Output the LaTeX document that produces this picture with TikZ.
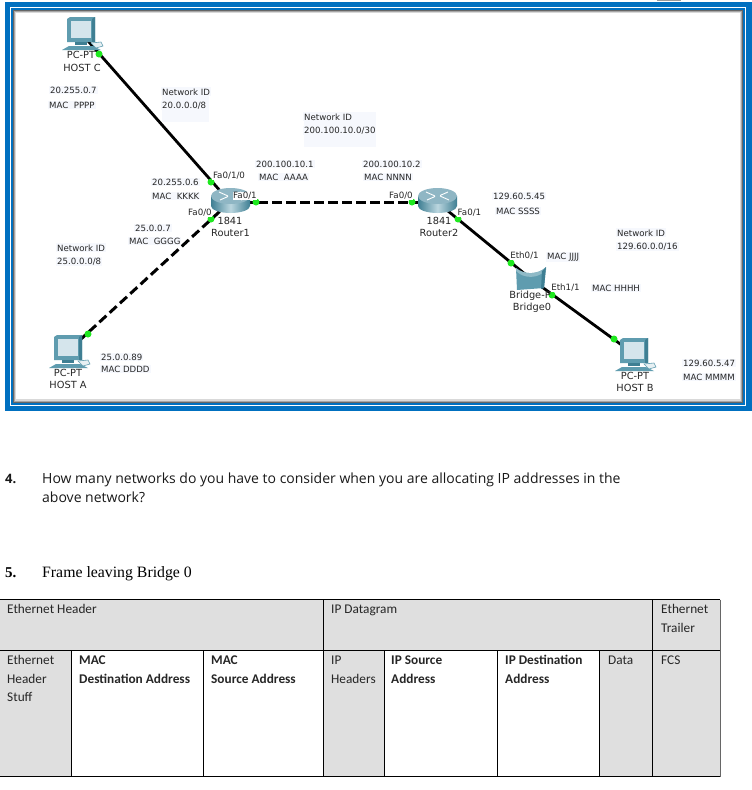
\documentclass[tikz,border=0pt]{standalone}
\usepackage{fontspec}
\setmainfont{DejaVu Sans}
\newfontfamily\labelfont{DejaVu Sans}
\newfontfamily\ptfont{DejaVu Sans}
\newfontfamily\bodyfont{Open Sans}
\newfontfamily\serifont{Liberation Serif}
\newfontfamily\tablefont{Carlito}
\definecolor{frameblue}{HTML}{0070C0}
\definecolor{monitor}{HTML}{5F9CAF}
\definecolor{monitordark}{HTML}{3F7F93}
\definecolor{screenfill}{HTML}{D5E5EC}
\definecolor{routermid}{HTML}{BBD6DF}
\definecolor{routertop}{HTML}{8FB6C4}
\definecolor{cellgray}{HTML}{DFDFDF}
\definecolor{dotgreen}{HTML}{1FE81F}
\definecolor{labelbg}{HTML}{F6F8FD}
\tikzset{
  x=1pt,y=-1pt,
  lnk/.style={line width=2.8pt,black},
  dlnk/.style={line width=3pt,black,dash pattern=on 9.5pt off 4.5pt},
  dot/.style={circle,fill=dotgreen,draw=none,inner sep=0pt,minimum size=7pt},
  dev/.style={draw=none,inner sep=0pt,minimum width=30pt,minimum height=30pt},
  ptl/.style={font=\ptfont\fontsize{9.8}{11}\selectfont,text=black!85,inner sep=0pt,anchor=center},
  port/.style={font=\ptfont\fontsize{8.7}{10}\selectfont,text=black!85,inner sep=0.5pt,fill=white,anchor=center},
  lab/.style={font=\labelfont\fontsize{8.6}{10}\selectfont,text=black!85,inner sep=1pt,fill=labelbg,anchor=base west,xshift=-1pt},
  body/.style={font=\bodyfont\fontsize{14}{19}\selectfont,inner sep=0pt,anchor=base west,text=black!90},
  cell/.style={font=\tablefont\fontsize{13.3}{14}\selectfont,inner sep=0pt,anchor=base west,text=black!85},
  bcell/.style={cell,font=\tablefont\bfseries\fontsize{13.3}{14}\selectfont},
  tline/.style={black,line width=0.9pt},
}
\newcommand{\pcicon}[2]{%
  \begin{scope}[shift={(#1,#2)}]
    \fill[monitor] (0,2) -- (3,0) -- (28,0) -- (28,25) -- (0,25) -- cycle;
    \fill[monitordark] (25,2) -- (28,0) -- (28,25) -- (25,25) -- cycle;
    \fill[screenfill] (4,4) rectangle (24,21);
    \fill[monitordark] (8,25) rectangle (20,28);
    \fill[monitor] (2,29) -- (26,29) -- (30,31) -- (34,33) -- (-5,33) -- cycle;
    \fill[white!85!monitor] (24,26) -- (34,25) -- (36,29) -- (29,31) -- cycle;
    \draw[monitor,line width=0.6pt] (24,26) -- (34,25) -- (36,29) -- (29,31) -- cycle;
  \end{scope}}
\newcommand{\routericon}[2]{%
  \begin{scope}[shift={(#1,#2)}]
    \shade[left color=monitordark,right color=monitordark,middle color=routermid]
      (0,8) -- (0,18) arc[x radius=19.5,y radius=7,start angle=180,end angle=0] -- (39,8) -- cycle;
    \fill[routertop] (19.5,8) ellipse[x radius=19.5,y radius=8];
    \draw[white,line width=0.9pt] (8,4) -- (17,8) (22,8) -- (31,12) (9,12) -- (17,8.5) (22,7.5) -- (30,4);
  \end{scope}}
\begin{document}
\begin{tikzpicture}
\useasboundingbox (0,0) rectangle (752,790);
\fill[white] (0,0) rectangle (752,790);
\fill[black!40] (657,0) rectangle (681,1);
% frame
\fill[frameblue] (5,1.5) rectangle (751.5,411);
\fill[white] (10,7) rectangle (746,406);
\fill[frameblue] (11,8) rectangle (745,404.5);
\fill[black!60] (13,10) rectangle (743,403);
\fill[black!35] (14,11) rectangle (742,402);
\fill[black!15] (15,12) rectangle (741,400.5);
\fill[white] (16,13) rectangle (739.5,399);
% pale label backgrounds
\fill[labelbg] (162,87) rectangle (209,122);
\fill[labelbg] (304,112) rectangle (376,147);
% devices (anchors for connectors)
\node[dev] (hostC) at (81,33) {};
\node[dev] (r1) at (230,202) {};
\node[dev] (r2) at (437,202) {};
\node[dev] (br) at (531,279) {};
\node[dev] (hostB) at (634,354) {};
\node[dev] (hostA) at (68,351) {};
% connectors
\draw[lnk] (hostC.center) -- (r1.center);
\draw[dlnk] (r1.center) -- (r2.center);
\draw[dlnk] (r1.center) -- (hostA.center);
\draw[lnk] (r2.center) -- (br.center);
\draw[lnk] (br.center) -- (hostB.center);
% icons
\pcicon{67}{17}
\pcicon{54}{335}
\pcicon{620}{338}
\routericon{211}{188}
\routericon{418}{188}
\fill[monitor] (516,268) .. controls (524,275) and (538,275) .. (546,267) -- (544,288) -- (517,290) -- cycle;
\fill[monitor!70!white] (516,268) .. controls (524,275) and (538,275) .. (546,267) -- (546,270) .. controls (538,279) and (524,279) .. (516,271) -- cycle;
\fill[monitordark] (542,271) -- (546,267) -- (544,288) -- (541,289) -- cycle;
% port dots
\node[dot] (d1) at (99,54) {};
\node[dot] (d2) at (211,182) {};
\node[dot] (d3) at (256,202) {};
\node[dot] (d4) at (211,219) {};
\node[dot] (d5) at (412,202) {};
\node[dot] (d6) at (458,219) {};
\node[dot] (d7) at (511,263) {};
\node[dot] (d8) at (552,295) {};
\node[dot] (d9) at (614,339) {};
\node[dot] (d10) at (88,334) {};
% device labels
\node[ptl] (t1) at (81,55) {PC-PT};
\node[ptl] (t2) at (82,67.5) {HOST C};
\node[ptl] (t3) at (230,221) {1841};
\node[ptl] (t4) at (230.5,233) {Router1};
\node[ptl] (t5) at (439,221) {1841};
\node[ptl] (t6) at (439,233) {Router2};
\node[ptl] (t7) at (530,296) {Bridge-P};
\node[ptl] (t8) at (532,308) {Bridge0};
\node[ptl] (t9) at (635,376) {PC-PT};
\node[ptl] (t10) at (635,388) {HOST B};
\node[ptl] (t11) at (68,373) {PC-PT};
\node[ptl] (t12) at (68,385) {HOST A};
\node[port] (p1) at (229,176) {Fa0/1/0};
\node[port] (p2) at (245,196) {Fa0/1};
\node[port] (p3) at (200,213) {Fa0/0};
\node[port] (p4) at (401,196) {Fa0/0};
\node[port] (p5) at (469.5,213) {Fa0/1};
\node[port] (p6) at (524.5,256) {Eth0/1};
\node[port] (p7) at (565.5,288) {Eth1/1};
% address labels
\node[lab] (a1) at (50,93) {20.255.0.7};
\node[lab] (a2) at (49,108) {MAC\ \ PPPP};
\node[lab] (a3) at (162,95) {Network ID};
\node[lab] (a4) at (162,108) {20.0.0.0/8};
\node[lab] (a5) at (304,120) {Network ID};
\node[lab] (a6) at (304,133) {200.100.10.0/30};
\node[lab] (a7) at (256,167) {200.100.10.1};
\node[lab] (a8) at (259,180) {MAC\ \ AAAA};
\node[lab] (a9) at (363,167) {200.100.10.2};
\node[lab] (a10) at (364,180) {MAC NNNN};
\node[lab] (a11) at (152,185) {20.255.0.6};
\node[lab] (a12) at (152,199) {MAC\ \ KKKK};
\node[lab] (a13) at (135,231) {25.0.0.7};
\node[lab] (a14) at (129,244) {MAC\ \ GGGG};
\node[lab] (a15) at (57,251) {Network ID};
\node[lab] (a16) at (57,264) {25.0.0.0/8};
\node[lab] (a17) at (101,360) {25.0.0.89};
\node[lab] (a18) at (101,372) {MAC DDDD};
\node[lab] (a19) at (493,199) {129.60.5.45};
\node[lab] (a20) at (496,214) {MAC SSSS};
\node[lab] (a21) at (617,236) {Network ID};
\node[lab] (a22) at (617,249) {129.60.0.0/16};
\node[lab] (a23) at (547,259) {MAC JJJJ};
\node[lab] (a24) at (592,291) {MAC HHHH};
\node[lab] (a25) at (683,366) {129.60.5.47};
\node[lab] (a26) at (683,380) {MAC MMMM};
% questions
\node[body,font=\bodyfont\bfseries\fontsize{13}{19}\selectfont] (q4n) at (5,483) {4.};
\node[body] (q4a) at (42,483) {How many networks do you have to consider when you are allocating IP addresses in the};
\node[body] (q4b) at (42,502) {above network?};
\node[font=\serifont\bfseries\fontsize{15}{16}\selectfont,inner sep=0pt,anchor=base west] (q5n) at (5,577) {5.};
\node[font=\serifont\fontsize{15.8}{16}\selectfont,inner sep=0pt,anchor=base west] (q5a) at (42,577) {Frame leaving Bridge 0};
% table
\fill[cellgray] (0,599.5) rectangle (720,650);
\fill[cellgray] (0,650) rectangle (71,776);
\fill[cellgray] (323,650) rectangle (384,776);
\fill[cellgray] (599,650) rectangle (720,776);
\draw[tline] (0,599.5) -- (720,599.5);
\draw[tline] (0,650.5) -- (720,650.5);
\draw[tline] (0,776.5) -- (720,776.5);
\draw[tline] (323,599.5) -- (323,776.5);
\draw[tline] (652,599.5) -- (652,776.5);
\draw[tline] (71,650.5) -- (71,776.5);
\draw[tline] (203,650.5) -- (203,776.5);
\draw[tline] (384,650.5) -- (384,776.5);
\draw[tline] (497,650.5) -- (497,776.5);
\draw[tline] (599,650.5) -- (599,776.5);
\draw[black!60,line width=0.6pt] (720,599.5) -- (720,776.5);
\node[cell] (c1) at (7,613) {Ethernet Header};
\node[cell] (c2) at (331,613) {IP Datagram};
\node[cell] (c3) at (661,613) {Ethernet};
\node[cell] (c4) at (661,632) {Trailer};
\node[cell] (c5) at (7,664) {Ethernet};
\node[cell] (c6) at (7,683) {Header};
\node[cell] (c7) at (7,701) {Stuff};
\node[bcell] (c8) at (79,664) {MAC};
\node[bcell] (c9) at (79,683) {Destination Address};
\node[bcell] (c10) at (211,664) {MAC};
\node[bcell] (c11) at (211,683) {Source Address};
\node[cell] (c12) at (331,664) {IP};
\node[cell] (c13) at (331,683) {Headers};
\node[bcell] (c14) at (391,664) {IP Source};
\node[bcell] (c15) at (391,683) {Address};
\node[bcell] (c16) at (505,664) {IP Destination};
\node[bcell] (c17) at (505,683) {Address};
\node[cell] (c18) at (608,664) {Data};
\node[cell] (c19) at (661,664) {FCS};
\end{tikzpicture}
\end{document}
